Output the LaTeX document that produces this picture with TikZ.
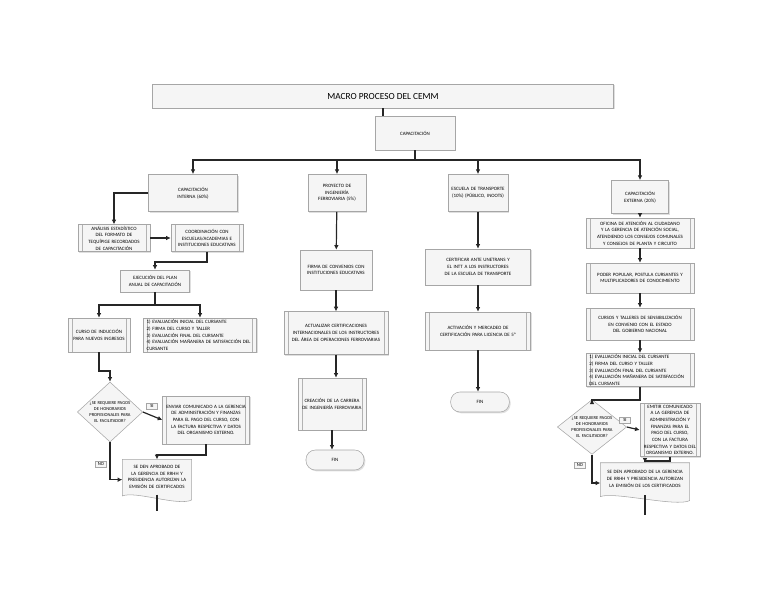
\documentclass[tikz,border=0pt]{standalone}
\usepackage{fontspec}
\setmainfont{Carlito}
\usetikzlibrary{shapes.geometric,arrows.meta,shadows}
\begin{document}
\begin{tikzpicture}[x=0.75pt,y=-0.75pt,
  every node/.style={execute at begin node={\hyphenpenalty=10000\exhyphenpenalty=10000}},
  b/.code 2 args={\pgfmathsetmacro\tw{#1-5}\tikzset{minimum width=#1pt,minimum height=#2pt,text width=\tw pt}},
  base/.style={draw=gray!70,fill=gray!8,align=center,inner sep=1pt,font=\fontsize{3.7}{5}\selectfont,drop shadow={opacity=0.25,shadow xshift=1pt,shadow yshift=-1pt}},
  proc/.style={base,path picture={\draw[gray!60] ([xshift=3pt]path picture bounding box.north west)--([xshift=3pt]path picture bounding box.south west);\draw[gray!60] ([xshift=-3pt]path picture bounding box.north east)--([xshift=-3pt]path picture bounding box.south east);}},
  plain/.style={base},
  term/.style={base,rounded corners=7pt},
  dia/.style={diamond,draw=gray!70,fill=gray!8,minimum width=#1,inner sep=0pt},
  lab/.style={font=\fontsize{3.7}{5}\selectfont,align=center},
  tag/.style={draw=gray!70,fill=gray!8,font=\fontsize{3.5}{4}\selectfont,inner sep=1pt,minimum width=8pt},
  ar/.style={draw=gray!30!black,line width=0.9pt,-{Latex[length=3.5pt,width=3.5pt]}},
  ln/.style={draw=gray!30!black,line width=0.9pt}]
\useasboundingbox (0,0) rectangle (768,594);
\node[base,minimum width=346pt,minimum height=18pt,font=\fontsize{7}{8}\selectfont] (title) at (383,96) {MACRO PROCESO DEL CEMM};
\node[plain,b={60}{25.5}] (cap) at (415,133) {CAPACITACIÓN};
% column 1
\node[plain,b={67}{28}] (ci) at (193,193) {CAPACITACIÓN\\INTERNA (60\%)};
\node[proc,b={54}{20}] (ana) at (114,238) {ANÁLISIS ESTADÍSTICO DEL FORMATO DE TEQUÍPIGE RECORDADOS DE CAPACITACIÓN};
\node[proc,b={54}{20}] (coo) at (207,238) {COORDINACIÓN CON ESCUELAS/ACADEMIAS E INSTITUCIONES EDUCATIVAS};
\node[plain,b={52}{16.5}] (eje) at (155,281) {EJECUCIÓN DEL PLAN ANUAL DE CAPACITACIÓN};
\node[proc,b={46.5}{25.5}] (cur) at (99,335) {CURSO DE INDUCCIÓN PARA NUEVOS INGRESOS};
\node[proc,b={85}{25.5},align=left] (eva) at (200,335) {1) EVALUACIÓN INICIAL DEL CURSANTE\\2) FIRMA DEL CURSO Y TALLER\\3) EVALUACIÓN FINAL DEL CURSANTE\\4) EVALUACIÓN MAÑANERA DE SATISFACCIÓN DEL CURSANTE};
\node[dia=49pt,minimum height=45pt,aspect=1.1] (d1) at (110,412) {};
\node[lab,text width=40pt,font=\fontsize{3.4}{4.4}\selectfont] (d1t) at (d1) {¿SE REQUIERE PAGOS DE HONORARIOS PROFESIONALES PARA EL FACILITADOR?};
\node[tag] (si1) at (152,406) {SI};
\node[proc,b={65}{36}] (env) at (206,420) {ENVIAR COMUNICADO A LA GERENCIA DE ADMINISTRACIÓN Y FINANZAS PARA EL PAGO DEL CURSO, CON LA FACTURA RESPECTIVA Y DATOS DEL ORGANISMO EXTERNO.};
\node[tag] (no1) at (101,464) {NO};
\node[draw=none,b={50}{26}] (doc1) at (157,477) {};
% column 2
\node[plain,b={43.5}{28}] (pro) at (337,193) {PROYECTO DE INGENIERÍA FERROVIARIA (5\%)};
\node[plain,b={54}{30}] (fir) at (336,270) {FIRMA DE CONVENIOS CON INSTITUCIONES EDUCATIVAS};
\node[proc,b={78}{32}] (act) at (336,333) {ACTUALIZAR CERTIFICACIONES INTERNACIONALES DE LOS INSTRUCTORES DEL ÁREA DE OPERACIONES FERROVIARIAS};
\node[proc,b={51}{39}] (cre) at (332,404) {CREACIÓN DE LA CARRERA DE INGENIERÍA FERROVIARIA};
\node[term,b={43.5}{15}] (fin1) at (335,460) {FIN};
% column 3
\node[plain,b={45}{28}] (esc) at (478,193) {ESCUELA DE TRANSPORTE (10\%) (PÚBLICO, INOOTS)};
\node[plain,b={79}{27}] (cer) at (478,267) {CERTIFICAR ANTE UNETRANS Y EL INTT A LOS INSTRUCTORES DE LA ESCUELA DE TRANSPORTE};
\node[proc,b={79}{28.5}] (acv) at (478,331) {ACTIVACIÓN Y MERCADEO DE CERTIFICACIÓN PARA LICENCIA DE 5ª};
\node[term,b={44}{15}] (fin2) at (480,402) {FIN};
% column 4
\node[plain,b={43}{25}] (ext) at (640,197) {CAPACITACIÓN EXTERNA (20\%)};
\node[proc,b={81}{22.5}] (ofi) at (640,233) {OFICINA DE ATENCIÓN AL CIUDADANO Y LA GERENCIA DE ATENCIÓN SOCIAL, ATENDIENDO LOS CONSEJOS COMUNALES Y CONSEJOS DE PLANTA Y CIRCUITO};
\node[proc,b={81}{22.5}] (pod) at (640,278) {PODER POPULAR, POSTULA CURSANTES Y MULTIPLICADORES DE CONOCIMIENTO};
\node[proc,b={81}{24}] (cus) at (640,324) {CURSOS Y TALLERES DE SENSIBILIZACIÓN EN CONVENIO CON EL ESTADO DEL GOBIERNO NACIONAL};
\node[proc,b={81}{22.5},align=left] (ev2) at (640,370) {1) EVALUACIÓN INICIAL DEL CURSANTE\\2) FIRMA DEL CURSO Y TALLER\\3) EVALUACIÓN FINAL DEL CURSANTE\\4) EVALUACIÓN MAÑANERA DE SATISFACCIÓN DEL CURSANTE};
\node[dia=52pt,minimum height=41pt,aspect=1.3] (d2) at (592,427) {};
\node[lab,text width=42pt,font=\fontsize{3.4}{4.4}\selectfont] (d2t) at (d2) {¿SE REQUIERE PAGOS DE HONORARIOS PROFESIONALES PARA EL FACILITADOR?};
\node[tag] (si2) at (625,420) {SI};
\node[proc,b={45}{37.5}] (emi) at (670,430) {EMITIR COMUNICADO A LA GERENCIA DE ADMINISTRACIÓN Y FINANZAS PARA EL PAGO DEL CURSO, CON LA FACTURA RESPECTIVA Y DATOS DEL ORGANISMO EXTERNO.};
\node[tag] (no2) at (580,465) {NO};
\node[draw=none,b={65}{24}] (doc2) at (645,479) {};
% document shapes
\foreach \d in {doc1,doc2}{
 \path[draw=gray!70,fill=gray!8] (\d.north west) -- (\d.north east) -- ([yshift=-4pt]\d.south east)
  .. controls ([yshift=-9pt,xshift=-10pt]\d.south east) and ([yshift=3pt,xshift=10pt]\d.south west) .. ([yshift=-1pt]\d.south west) -- cycle;}
\node[lab,b={50}{26}] (doc1t) at (doc1) {SE DEN APROBADO DE LA GERENCIA DE RRHH Y PRESIDENCIA AUTORIZAN LA EMISIÓN DE CERTIFICADOS};
\node[lab,b={65}{24}] (doc2t) at (doc2) {SE DEN APROBADO DE LA GERENCIA DE RRHH Y PRESIDENCIA AUTORIZAN LA EMISIÓN DE LOS CERTIFICADOS};
% connectors
\draw[ln] (title.south) -- (title.south|-cap.north);
\coordinate (bus) at (415,160);
\draw[ln] (cap.south) -- (bus);
\draw[ar] (bus) -| (ci.north);
\draw[ar] (bus) -| (ext.north);
\draw[ar] (bus) -| (pro.north);
\draw[ar] (bus) -| (esc.north);
\draw[ar] (ci.west) -| (ana.north);
\draw[ar] (ana) -- (coo);
\coordinate (c1) at (207,262);
\draw[ar] (coo.south) -- (c1) -| (eje.north);
\coordinate (c2) at (155,305);
\draw[ln] (eje.south) -- (c2);
\draw[ar] (c2) -| (cur.north);
\draw[ar] (c2) -| (eva.north);
\draw[ar] (cur.south) |- ([yshift=-14pt]cur.south) -| (d1.north);
\draw[ar] (d1.east) -- (env.west);
\coordinate (c3) at (206,455);
\draw[ar] (env.south) -- (c3) -| (doc1.north);
\draw[ar] (d1.south) |- ([yshift=-2pt]doc1.west);
\draw[ln] (doc1.south) -- ++(0,16);
\draw[ar] (pro) -- (fir);
\draw[ar] (fir) -- (act);
\draw[ar] (act.south) -- (act.south|-cre.north);
\draw[ar] (cre.south) -- (cre.south|-fin1.north);
\draw[ar] (esc) -- (cer);
\draw[ar] (cer) -- (acv);
\draw[ar] (acv.south) -- (acv.south|-fin2.north);
\draw[ar] (ext) -- (ofi);
\draw[ar] (ofi) -- (pod);
\draw[ar] (pod) -- (cus);
\draw[ar] (cus) -- (ev2);
\coordinate (c4) at (640,400);
\draw[ar] (ev2.south) -- (c4) -| (d2.north);
\draw[ar] (d2.east) -- (emi.west);
\coordinate (c5) at (670,461);
\draw[ar] (emi.south) -- (c5) -| (doc2.north);
\draw[ar] (d2.south) |- ([yshift=-3pt]doc2.west);
\draw[ln] (doc2.south) -- ++(0,20);
\end{tikzpicture}
\end{document}
